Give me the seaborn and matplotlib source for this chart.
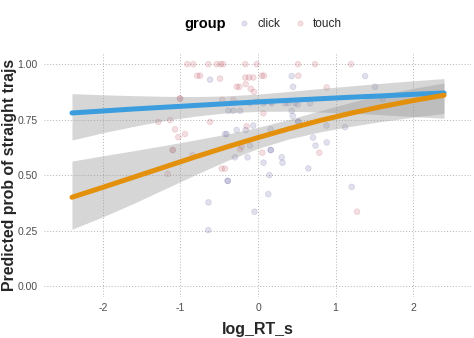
import numpy as np
import pandas as pd
import matplotlib
matplotlib.use("Agg")
import matplotlib.pyplot as plt
import seaborn as sns

# ---- observed trial proportions ----
click_x = [-0.619, 0.435, 1.381, 0.452, 1.51, 1.606, -0.383, -0.319, -0.232,
           -0.103, 0.068, 0.177, 0.348, 0.391, 0.477, 0.512, 0.671, -0.017,
           0.09, 0.168, 0.435, 0.448, 0.52, 0.52, 0.884, -0.061, 1.123,
           -0.426, -0.404, -0.275, -0.159, 0.164, 0.71, 0.886, 0.742, -0.103,
           -0.297, -0.135, 0.306, 0.071, 0.316, 0.164, 0.164, 0.649, 0.146,
           -0.391, -0.391, 0.133, 1.209, -0.639, -0.641, -0.045]
click_y = [0.93, 0.946, 0.946, 0.898, 0.898, 0.842, 0.79, 0.79, 0.79,
           0.824, 0.824, 0.824, 0.824, 0.824, 0.824, 0.818, 0.824, 0.83,
           0.83, 0.83, 0.79, 0.767, 0.74, 0.74, 0.723, 0.723, 0.716,
           0.685, 0.685, 0.703, 0.703, 0.706, 0.669, 0.647, 0.633, 0.633,
           0.58, 0.58, 0.58, 0.556, 0.556, 0.613, 0.613, 0.53, 0.5,
           0.474, 0.474, 0.414, 0.447, 0.377, 0.252, 0.335]

touch_x = [-0.912, -0.835, -0.641, -0.533, -0.481, -0.448, -0.164, -0.017,
           0.516, 0.735, 1.2, -0.783, -0.748, 0.048, 0.077, 0.52, -0.49,
           -0.164, -0.116, -0.061, -0.275, -0.241, -0.159, -0.094, -0.052,
           0.886, -1.006, -1.006, -0.461, -0.319, -1.286, -0.619, -1.135,
           -1.071, -1.028, -0.942, -0.146, 0.068, -1.10, -1.10, -0.843,
           -0.232, -0.21, 0.055, 0.791, -0.468, -0.426, -1.165, 1.277]
touch_y = [1.0, 1.0, 1.0, 1.0, 1.0, 1.0, 1.0, 1.0,
           1.0, 1.0, 1.0, 0.948, 0.948, 0.948, 0.948, 0.948, 0.935,
           0.94, 0.94, 0.94, 0.898, 0.898, 0.91, 0.889, 0.875,
           0.895, 0.845, 0.845, 0.839, 0.839, 0.74, 0.74, 0.748,
           0.706, 0.671, 0.685, 0.72, 0.779, 0.613, 0.613, 0.59,
           0.616, 0.628, 0.601, 0.601, 0.529, 0.529, 0.505, 0.335]

# ---- model predictions with 95% bands ----
pred_x = [-2.4, -2.0, -1.6, -1.2, -0.8, -0.4, 0.0, 0.4, 0.8, 1.2, 1.6, 2.0, 2.4]
click_fit = [0.780, 0.789, 0.798, 0.806, 0.814, 0.822, 0.830, 0.837, 0.844,
             0.851, 0.857, 0.864, 0.870]
click_lo = [0.658, 0.691, 0.720, 0.746, 0.766, 0.781, 0.787, 0.788, 0.784,
            0.779, 0.772, 0.764, 0.756]
click_hi = [0.867, 0.862, 0.858, 0.855, 0.854, 0.857, 0.865, 0.877, 0.890,
            0.902, 0.914, 0.925, 0.935]
touch_fit = [0.400, 0.445, 0.491, 0.537, 0.583, 0.627, 0.669, 0.709, 0.746,
             0.779, 0.809, 0.836, 0.860]
touch_lo = [0.256, 0.312, 0.373, 0.438, 0.503, 0.565, 0.620, 0.663, 0.695,
            0.720, 0.742, 0.761, 0.778]
touch_hi = [0.563, 0.587, 0.610, 0.634, 0.659, 0.685, 0.715, 0.751, 0.790,
            0.828, 0.862, 0.891, 0.915]

x_ticks = [-2, -1, 0, 1, 2]
x_tick_labels = ["-2", "-1", "0", "1", "2"]
y_ticks = [0.0, 0.25, 0.5, 0.75, 1.0]
y_tick_labels = ["0.00", "0.25", "0.50", "0.75", "1.00"]

groups = ["click", "touch"]
point_colors = {"click": "#3a3a8c", "touch": "#b02a3c"}
line_colors = {"click": "#3b9ddd", "touch": "#e3900c"}

sns.set_theme(style="white")
plt.rcParams["font.family"] = ["Liberation Sans", "DejaVu Sans"]

points = pd.DataFrame({
    "log_RT_s": click_x + touch_x,
    "prob": click_y + touch_y,
    "group": ["click"] * len(click_x) + ["touch"] * len(touch_x),
})
preds = pd.DataFrame({
    "log_RT_s": pred_x * 2,
    "fit": click_fit + touch_fit,
    "lo": click_lo + touch_lo,
    "hi": click_hi + touch_hi,
    "group": ["click"] * len(pred_x) + ["touch"] * len(pred_x),
})

fig = plt.figure(figsize=(4.74, 3.38), dpi=100)
ax = fig.add_axes([0.093, 0.121, 0.901, 0.722])

# dotted reference grid
for t in x_ticks:
    ax.axvline(t, color="#b3b3b3", lw=0.7, ls=(0, (1, 2)), zorder=0)
for t in y_ticks:
    ax.axhline(t, color="#b3b3b3", lw=0.7, ls=(0, (1, 2)), zorder=0)

sns.scatterplot(data=points, x="log_RT_s", y="prob", hue="group",
                hue_order=groups, palette=point_colors, alpha=0.15, s=17,
                edgecolor="face", linewidth=0.6, ax=ax, zorder=2)

for g in groups:
    sub = preds[preds["group"] == g]
    ax.fill_between(sub["log_RT_s"], sub["lo"], sub["hi"],
                    color="#999999", alpha=0.4, lw=0, zorder=3)
for g in groups:
    sub = preds[preds["group"] == g]
    sns.lineplot(data=sub, x="log_RT_s", y="fit", color=line_colors[g],
                 lw=3.6, ax=ax, legend=False, zorder=4)

handles, labels = ax.get_legend_handles_labels()
ax.get_legend().remove()
fig.legend(handles, labels, loc="center left", ncol=2, frameon=False,
           bbox_to_anchor=(0.48, 0.928), fontsize=8.5, handletextpad=0.6,
           columnspacing=1.2, markerscale=0.9, handlelength=1.0)
fig.text(0.432, 0.928, "group", fontsize=10.5, fontweight="bold",
         ha="center", va="center", color="black")

ax.set_xlim(-2.76, 2.75)
ax.set_ylim(-0.05, 1.05)
ax.set_xticks(x_ticks)
ax.set_xticklabels(x_tick_labels)
ax.set_yticks(y_ticks)
ax.set_yticklabels(y_tick_labels)
ax.tick_params(axis="both", length=2.5, width=0.6, color="#333333",
               labelsize=7.5, labelcolor="#4d4d4d", pad=2)
for s in ax.spines.values():
    s.set_visible(False)
ax.grid(False)

ax.set_xlabel("log_RT_s", fontsize=11.5, fontweight="bold", labelpad=6)
ax.set_ylabel("Predicted prob of straight trajs", fontsize=11.4,
              fontweight="bold")
ax.yaxis.set_label_coords(-0.064, 0.5)

fig.savefig("out.png", dpi=100, facecolor="white")
